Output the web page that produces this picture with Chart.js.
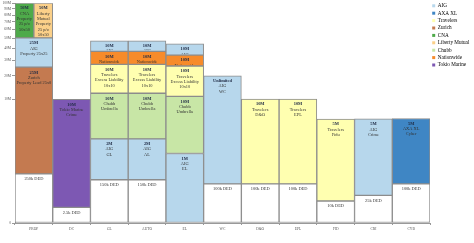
<!DOCTYPE html>
<html>
<head>
<meta charset="utf-8">
<script src="https://cdn.jsdelivr.net/npm/chart.js@4.4.1/dist/chart.umd.min.js"></script>
<style>
  html, body { margin: 0; padding: 0; background: #fff; }
  #wrap { width: 474px; height: 243px; }
</style>
</head>
<body>
<div id="wrap"><canvas id="towerChart"></canvas></div>
<script>
// coverage lines along the x axis
const categories = ['PROP', 'DC', 'GL', 'AUTO', 'EL', 'WC', 'D&O', 'EPL', 'FID', 'CRI', 'CYB'];

// carriers in the legend and their colours
const carriers = ['AIG', 'AXA XL', 'Travelers', 'Zurich', 'CNA', 'Liberty Mutual', 'Chubb', 'Nationwide', 'Tokio Marine'];
const carrierColors = ['#b7d7ec', '#3f86c4', '#ffffb0', '#c47a50', '#4eaa4a', '#fbd089', '#c8e6a6', '#f78b2a', '#7d58b3'];

// y axis ticks ($M)
const yTicks = [0, 10, 20, 30, 40, 50, 60, 70, 80, 90, 100];

// layer 0: deductibles ($M)
const deductibles = [0.25, 0.0025, 0.15, 0.15, null, 0.1, 0.1, 0.1, 0.01, 0.025, 0.1];
const deductibleText = ['250k DED', '2.5k DED', '150k DED', '150k DED', null, '100k DED', '100k DED', '100k DED', '10k DED', '25k DED', '100k DED'];

// layer 1: primary ($M) - WC is "Unlimited", drawn at about 20M
const primaryLimits = [25, 10, 2, 2, 1, 20, 10, 10, 5, 5, 5];
const primaryCarriers = ['Zurich', 'Tokio Marine', 'AIG', 'AIG', 'AIG', 'AIG', 'Travelers', 'Travelers', 'Travelers', 'AIG', 'AXA XL'];
const primaryText = [
  ['25M', 'Zurich', 'Property Lead 25x0'], ['10M', 'Tokio Marine', 'Crime'], ['2M', 'AIG', 'GL'], ['2M', 'AIG', 'AL'],
  ['1M', 'AIG', 'EL'], ['Unlimited', 'AIG', 'WC'], ['10M', 'Travelers', 'D&O'], ['10M', 'Travelers', 'EPL'],
  ['5M', 'Travelers', 'Fidu'], ['5M', 'AIG', 'Crime'], ['5M', 'AXA XL', 'Cyber']
];

// layer 2
const layer2Limits = [25, null, 10, 10, 10, null, null, null, null, null, null];
const layer2Carriers = ['AIG', null, 'Chubb', 'Chubb', 'Chubb', null, null, null, null, null, null];
const layer2Text = [['25M', 'AIG', 'Property 25x25'], null, ['10M', 'Chubb', 'Umbrella'], ['10M', 'Chubb', 'Umbrella'], ['10M', 'Chubb', 'Umbrella'], null, null, null, null, null, null];

// layer 3
const layer3Limits = [null, null, 15, 15, 15, null, null, null, null, null, null];
const layer3Carriers = [null, null, 'Travelers', 'Travelers', 'Travelers', null, null, null, null, null, null];
const xsText = ['10M', 'Travelers', 'Excess Liability', '10x10'];
const layer3Text = [null, null, xsText, xsText, xsText, null, null, null, null, null, null];

// layer 4
const layer4Limits = [null, null, 10, 10, 8, null, null, null, null, null, null];
const layer4Carriers = [null, null, 'Nationwide', 'Nationwide', 'Nationwide', null, null, null, null, null, null];
const layer4Text = [null, null, ['10M', 'Nationwide'], ['10M', 'Nationwide'], ['10M', 'Nationwide'], null, null, null, null, null, null];

// layer 5
const layer5Limits = [null, null, 10, 10, 10, null, null, null, null, null, null];
const layer5Carriers = [null, null, 'AIG', 'AIG', 'AIG', null, null, null, null, null, null];
const layer5Text = [null, null, ['10M', 'AIG'], ['10M', 'AIG'], ['10M', 'AIG'], null, null, null, null, null, null];

// PROP top layer, split side by side (25 p/o 50x50 each)
const sharedCarriers = ['CNA', 'Liberty Mutual'];
const sharedLimit = 50;
const sharedText = [['50M', 'CNA', 'Property', '25 p/o', '50x50'], ['50M', 'Liberty', 'Mutual', 'Property', '25 p/o', '50x50']];

// fourth-root value axis
class RootScale extends Chart.LinearScale {
  static id = 'root4';
  static defaults = Chart.LinearScale.defaults;
  getPixelForValue(value) {
    const v = Math.max(0, value);
    return this.getPixelForDecimal(Math.pow(v / this.max, 0.25));
  }
  getValueForPixel(pixel) {
    return Math.pow(this.getDecimalForPixel(pixel), 4) * this.max;
  }
}
Chart.register(RootScale);

const colorOf = c => c ? carrierColors[carriers.indexOf(c)] : '#ffffff';

// every bar takes the full width of its slot
const barStyle = {
  grouped: false,
  barPercentage: 1,
  categoryPercentage: 1,
  borderColor: '#8c8c8c',
  borderWidth: 1,
  borderSkipped: false
};

function layer(label, values, names, texts, bold) {
  return Object.assign({
    label: label,
    data: values,
    xAxisID: 'x',
    backgroundColor: names ? names.map(colorOf) : '#ffffff',
    texts: texts,
    bold: bold
  }, barStyle);
}

const propBase = deductibles[0] + primaryLimits[0] + layer2Limits[0];

const datasets = [
  layer('Deductible', deductibles, null, deductibleText.map(t => t ? [t] : null), false),
  layer('Primary', primaryLimits, primaryCarriers, primaryText, true),
  layer('Layer 2', layer2Limits, layer2Carriers, layer2Text, true),
  layer('Layer 3', layer3Limits, layer3Carriers, layer3Text, true),
  layer('Layer 4', layer4Limits, layer4Carriers, layer4Text, true),
  layer('Layer 5', layer5Limits, layer5Carriers, layer5Text, true),
  Object.assign({
    label: 'PROP shared',
    data: sharedCarriers.map(() => [propBase, propBase + sharedLimit]),
    xAxisID: 'x2',
    backgroundColor: sharedCarriers.map(colorOf),
    texts: sharedText,
    bold: true
  }, barStyle)
];

// writes the layer text inside each bar segment
const segmentText = {
  id: 'segmentText',
  afterDatasetsDraw(chart) {
    const ctx = chart.ctx;
    chart.data.datasets.forEach((ds, di) => {
      const meta = chart.getDatasetMeta(di);
      meta.data.forEach((bar, i) => {
        const lines = ds.texts && ds.texts[i];
        if (!lines || ds.data[i] == null) return;
        const p = bar.getProps(['x', 'y', 'base', 'width'], true);
        const top = Math.min(p.y, p.base), h = Math.abs(p.base - p.y);
        ctx.save();
        ctx.beginPath();
        ctx.rect(p.x - p.width / 2, top + 1, p.width, h - 2);
        ctx.clip();
        ctx.textAlign = 'center';
        ctx.textBaseline = 'middle';
        lines.forEach((t, k) => {
          const b = ds.bold && k === 0;
          ctx.font = (b ? 'bold ' : '') + '4.4px "Liberation Serif"';
          ctx.fillStyle = b ? '#1f2a44' : '#333333';
          ctx.fillText(t, p.x, top + 5.2 + k * 5.3);
        });
        ctx.restore();
      });
    });
  }
};

new Chart(document.getElementById('towerChart'), {
  type: 'bar',
  data: { labels: categories, datasets: datasets },
  plugins: [segmentText],
  options: {
    responsive: true,
    maintainAspectRatio: false,
    animation: false,
    layout: { padding: { top: 1, right: 0, bottom: 0, left: 0 } },
    scales: {
      x: {
        stacked: true,
        offset: true,
        grid: { drawOnChartArea: false, drawTicks: true, tickLength: 2, color: '#999' },
        border: { color: '#999' },
        ticks: { font: { family: 'Liberation Serif', size: 3.6 }, color: '#555', padding: 1.5, maxRotation: 0 },
        afterFit: s => { s.height = 20; }
      },
      x2: {
        type: 'category',
        labels: categories.flatMap(c => [c + ' a', c + ' b']),
        stacked: true,
        offset: true,
        display: false
      },
      y: {
        type: 'root4',
        stacked: true,
        min: 0,
        max: 100,
        afterBuildTicks: s => { s.ticks = yTicks.map(v => ({ value: v })); },
        grid: { drawOnChartArea: false, tickLength: 3, color: '#999' },
        border: { color: '#999' },
        ticks: {
          autoSkip: false,
          font: { family: 'Liberation Serif', size: 3.6 },
          color: '#555',
          padding: 1,
          callback: v => v === 0 ? '0' : v + 'M'
        },
        afterFit: s => { s.width = 15; }
      }
    },
    plugins: {
      tooltip: { enabled: false },
      legend: {
        position: 'right',
        align: 'start',
        maxWidth: 44,
        onClick: () => {},
        labels: {
          boxWidth: 3,
          boxHeight: 3,
          padding: 2.2,
          color: '#333',
          font: { family: 'Liberation Serif', size: 5.2 },
          generateLabels: () => carriers.map((c, i) => ({
            text: c, fillStyle: carrierColors[i], strokeStyle: carrierColors[i], lineWidth: 0, hidden: false
          }))
        }
      }
    }
  }
});
</script>
</body>
</html>
